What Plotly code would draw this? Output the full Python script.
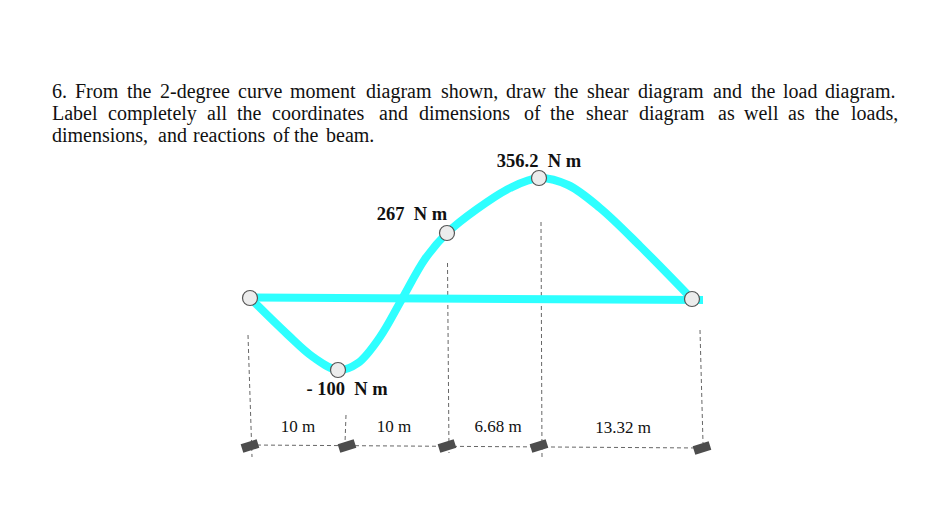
import plotly.graph_objects as go

# question text, one list per printed line (justified in the original)
line1 = ["6.", "From", "the", "2-degree", "curve", "moment", "diagram", "shown,", "draw", "the", "shear", "diagram", "and", "the", "load", "diagram."]
line1_x = [52, 75, 127, 160, 238, 290, 366, 441, 506, 554, 587, 638, 713, 751, 783, 825]
line2 = ["Label", "completely", "all", "the", "coordinates", "and", "dimensions", "of", "the", "shear", "diagram", "as", "well", "as", "the", "loads,"]
line2_x = [52, 108, 207, 237, 272, 379, 419, 524, 550, 586, 639, 718, 744, 788, 815, 851]
line3 = ["dimensions,", "and", "reactions", "of", "the", "beam."]
line3_x = [52, 158, 193, 273, 294, 326]

# moment diagram, in picture units
beam_x = [250, 692, 703]
beam_y = [297.5, 299.5, 300]
curve_x = [250, 287, 313, 338, 358, 380, 402, 425, 447, 477, 510, 539, 568, 600, 640, 692]
curve_y = [298, 334, 357, 370, 363, 337, 299, 259, 233, 209, 188, 178, 185, 208, 246, 299]
node_x = [250, 338, 447, 539, 692]
node_y = [298, 370, 233, 178, 299]

moment_labels = ["356.2  N m", "267  N m", "- 100  N m"]
moment_x = [539, 412, 347]
moment_y = [162, 215, 390]

dim_labels = ["10 m", "10 m", "6.68 m", "13.32 m"]
dim_x = [298, 394, 498, 623]
dim_y = [428, 428, 428, 429]

# dashed leaders
lead_x = [[248, 252], [346, 345], [447.5, 449], [541, 542], [700, 703]]
lead_y = [[335, 457], [415, 443], [263, 453], [222, 457], [330, 443]]
base_x = [250, 702]
base_y = [445, 448]
support_x = [250, 347, 447, 539, 702]
support_y = [446, 446, 446, 446, 448]

fig = go.Figure()

for xs, ys in zip(lead_x, lead_y):
    fig.add_trace(go.Scatter(x=xs, y=ys, mode="lines", line=dict(color="#666666", width=1, dash="4px,3px")))
fig.add_trace(go.Scatter(x=base_x, y=base_y, mode="lines", line=dict(color="#666666", width=1, dash="4px,3px")))

fig.add_trace(go.Scatter(x=beam_x, y=beam_y, mode="lines", line=dict(color="#2effff", width=8)))
fig.add_trace(go.Scatter(x=curve_x, y=curve_y, mode="lines", line=dict(color="#2effff", width=8, shape="spline", smoothing=1)))
fig.add_trace(go.Scatter(x=node_x, y=node_y, mode="markers",
                         marker=dict(size=15, color="#ececec", line=dict(color="#555555", width=1.2))))

# supports are short thick tilted bars
for sx, sy in zip(support_x, support_y):
    fig.add_trace(go.Scatter(x=[sx - 8, sx + 8], y=[sy + 2.5, sy - 2.5], mode="lines",
                             line=dict(color="#4d4d4d", width=9)))

for words, xs, y in [(line1, line1_x, 93), (line2, line2_x, 115), (line3, line3_x, 137)]:
    fig.add_trace(go.Scatter(x=xs, y=[y] * len(xs), mode="text", text=words, textposition="middle right",
                             textfont=dict(family="Liberation Serif", size=20, color="#111111")))

fig.add_trace(go.Scatter(x=moment_x, y=moment_y, mode="text", text=moment_labels, textposition="middle center",
                         textfont=dict(family="Liberation Serif", size=18.5, color="#111111", weight="bold")))
fig.add_trace(go.Scatter(x=dim_x, y=dim_y, mode="text", text=dim_labels, textposition="middle center",
                         textfont=dict(family="Liberation Serif", size=17, color="#111111")))

fig.update_xaxes(range=[0, 948], visible=False, fixedrange=True)
fig.update_yaxes(range=[519, 0], visible=False, fixedrange=True)
fig.update_layout(width=948, height=519, margin=dict(l=0, r=0, t=0, b=0), showlegend=False,
                  plot_bgcolor="white", paper_bgcolor="white")

# the page's default body margin would push the figure 8px in
fig.write_html("out.html", config={"displayModeBar": False}, post_script="document.body.style.margin='0';")
